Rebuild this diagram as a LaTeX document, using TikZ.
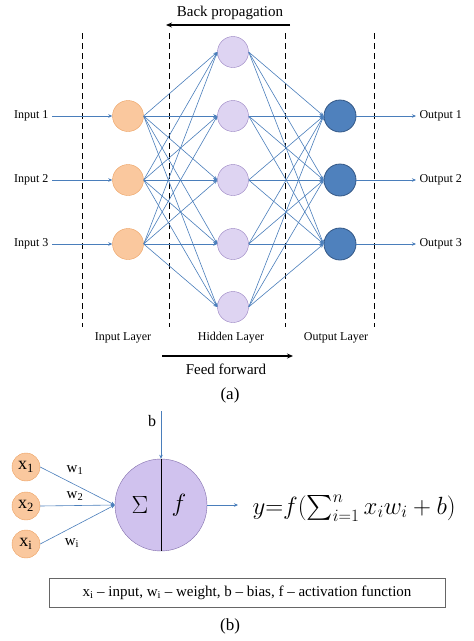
\documentclass[tikz,border=0pt]{standalone}
\usepackage{fontspec}
\setmainfont{Liberation Serif}
\usepackage{amsmath}
\usetikzlibrary{arrows.meta}

\definecolor{linkblue}{RGB}{74,126,187}
\definecolor{inFill}{RGB}{250,200,158}
\definecolor{inDraw}{RGB}{236,160,96}
\definecolor{hidFill}{RGB}{222,212,242}
\definecolor{hidDraw}{RGB}{150,128,192}
\definecolor{outFill}{RGB}{79,129,189}
\definecolor{outDraw}{RGB}{52,88,134}
\definecolor{neuFill}{RGB}{208,194,238}
\definecolor{neuDraw}{RGB}{128,108,170}

\begin{document}
\begin{tikzpicture}[x=1pt, y=-1pt, >=Stealth,
    every node/.style={font=\fontsize{12}{14}\selectfont},
    innode/.style={circle, draw=inDraw, fill=inFill, minimum size=31pt, inner sep=0pt},
    hidnode/.style={circle, draw=hidDraw, fill=hidFill, minimum size=31pt, inner sep=0pt},
    outnode/.style={circle, draw=outDraw, fill=outFill, line width=0.8pt, minimum size=32pt, inner sep=0pt},
    xnode/.style={circle, draw=inDraw, fill=inFill, minimum size=28pt, inner sep=0pt, font=\fontsize{18}{20}\selectfont},
    wlabel/.style={font=\fontsize{15}{17}\selectfont},
    link/.style={linkblue, line width=0.6pt, -{Stealth[length=4pt, width=3.5pt]}},
    bigarrow/.style={black, line width=1.2pt, -{Stealth[length=6pt, width=5pt]}},
    layerline/.style={black, line width=0.9pt, dash pattern=on 6pt off 4pt}]
    \useasboundingbox (0,0) rectangle (474,641);

    % Layer borders
    \foreach \lx in {82,169,285,374}
        \draw[layerline] (\lx,33) -- (\lx,327);

    % Back propagation
    \node[font=\fontsize{15}{17}\selectfont] (bp) at (230,13) {Back propagation};
    \coordinate (bp-s) at (290,25);
    \coordinate (bp-e) at (166,25);
    \draw[bigarrow] (bp-s) -- (bp-e);

    % Input layer
    \foreach \i/\y in {1/116,2/180,3/244} {
        \node[innode] (in-\i) at (128,\y) {};
        \node[anchor=east] (lab-in\i) at (52,\y) {Input \i};
        \draw[link] (lab-in\i.east) -- (in-\i.west);
    }

    % Hidden layer
    \foreach \j/\y in {1/52,2/116,3/180,4/244,5/307}
        \node[hidnode] (hid-\j) at (233,\y) {};

    % Output layer
    \foreach \k/\y in {1/116,2/180,3/244} {
        \node[outnode] (out-\k) at (340,\y) {};
        \node[anchor=west] (lab-out\k) at (416,\y) {Output \k};
        \draw[link] (out-\k.east) -- (lab-out\k.west);
    }

    % Connections
    \foreach \i in {1,2,3}
        \foreach \j in {1,...,5}
            \draw[link] (in-\i.east) -- (hid-\j.west);
    \foreach \j in {1,...,5}
        \foreach \k in {1,2,3}
            \draw[link] (hid-\j.east) -- (out-\k.west);

    % Layer names
    \node (name-in) at (123,338) {Input Layer};
    \node (name-hid) at (231,338) {Hidden Layer};
    \node (name-out) at (336,338) {Output Layer};

    % Feed forward
    \coordinate (ff-s) at (162,356);
    \coordinate (ff-e) at (293,356);
    \draw[bigarrow] (ff-s) -- (ff-e);
    \node[font=\fontsize{15}{17}\selectfont] (ff) at (226,369) {Feed forward};
    \node[font=\fontsize{17}{19}\selectfont] (cap-a) at (230,395) {(a)};

    % Single neuron
    \node[circle, draw=neuDraw, fill=neuFill, minimum size=92pt, inner sep=0pt] (neuron) at (161,505) {};
    \draw[black, line width=0.8pt] (neuron.north) -- (neuron.south);
    \node[font=\fontsize{25}{27}\selectfont] (sig) at (140,505) {$\Sigma$};
    \node[font=\fontsize{25}{27}\selectfont] (fn) at (179,505) {$f$};

    % Bias
    \node[font=\fontsize{16}{18}\selectfont] (b) at (152,421) {b};
    \coordinate (b-top) at (161,411);
    \draw[link] (b-top) -- (neuron.north);

    % Inputs and weights
    \node[xnode] (x-1) at (26,467) {x\textsubscript{1}};
    \node[xnode] (x-2) at (26,506) {x\textsubscript{2}};
    \node[xnode] (x-3) at (26,544) {x\textsubscript{i}};
    \foreach \i in {1,2,3}
        \draw[link] (x-\i.east) -- (neuron.west);
    \node[wlabel] (w-1) at (75,470) {w\textsubscript{1}};
    \node[wlabel] (w-2) at (75,496) {w\textsubscript{2}};
    \node[wlabel] (w-3) at (72,543) {w\textsubscript{i}};

    % Output
    \coordinate (y-out) at (238,505);
    \draw[link] (neuron.east) -- (y-out);
    \node[anchor=west, font=\fontsize{26}{28}\selectfont] (formula) at (249,508) {$y{=}f(\sum_{i=1}^{n} x_i w_i + b)$};

    % Legend
    \node[draw=black!60, minimum width=396pt, minimum height=29pt, font=\fontsize{15}{17}\selectfont] (legend) at (247,593)
        {x\textsubscript{i} -- input, w\textsubscript{i} -- weight, b -- bias, f -- activation function};
    \node[font=\fontsize{17}{19}\selectfont] (cap-b) at (230,626) {(b)};
\end{tikzpicture}
\end{document}
